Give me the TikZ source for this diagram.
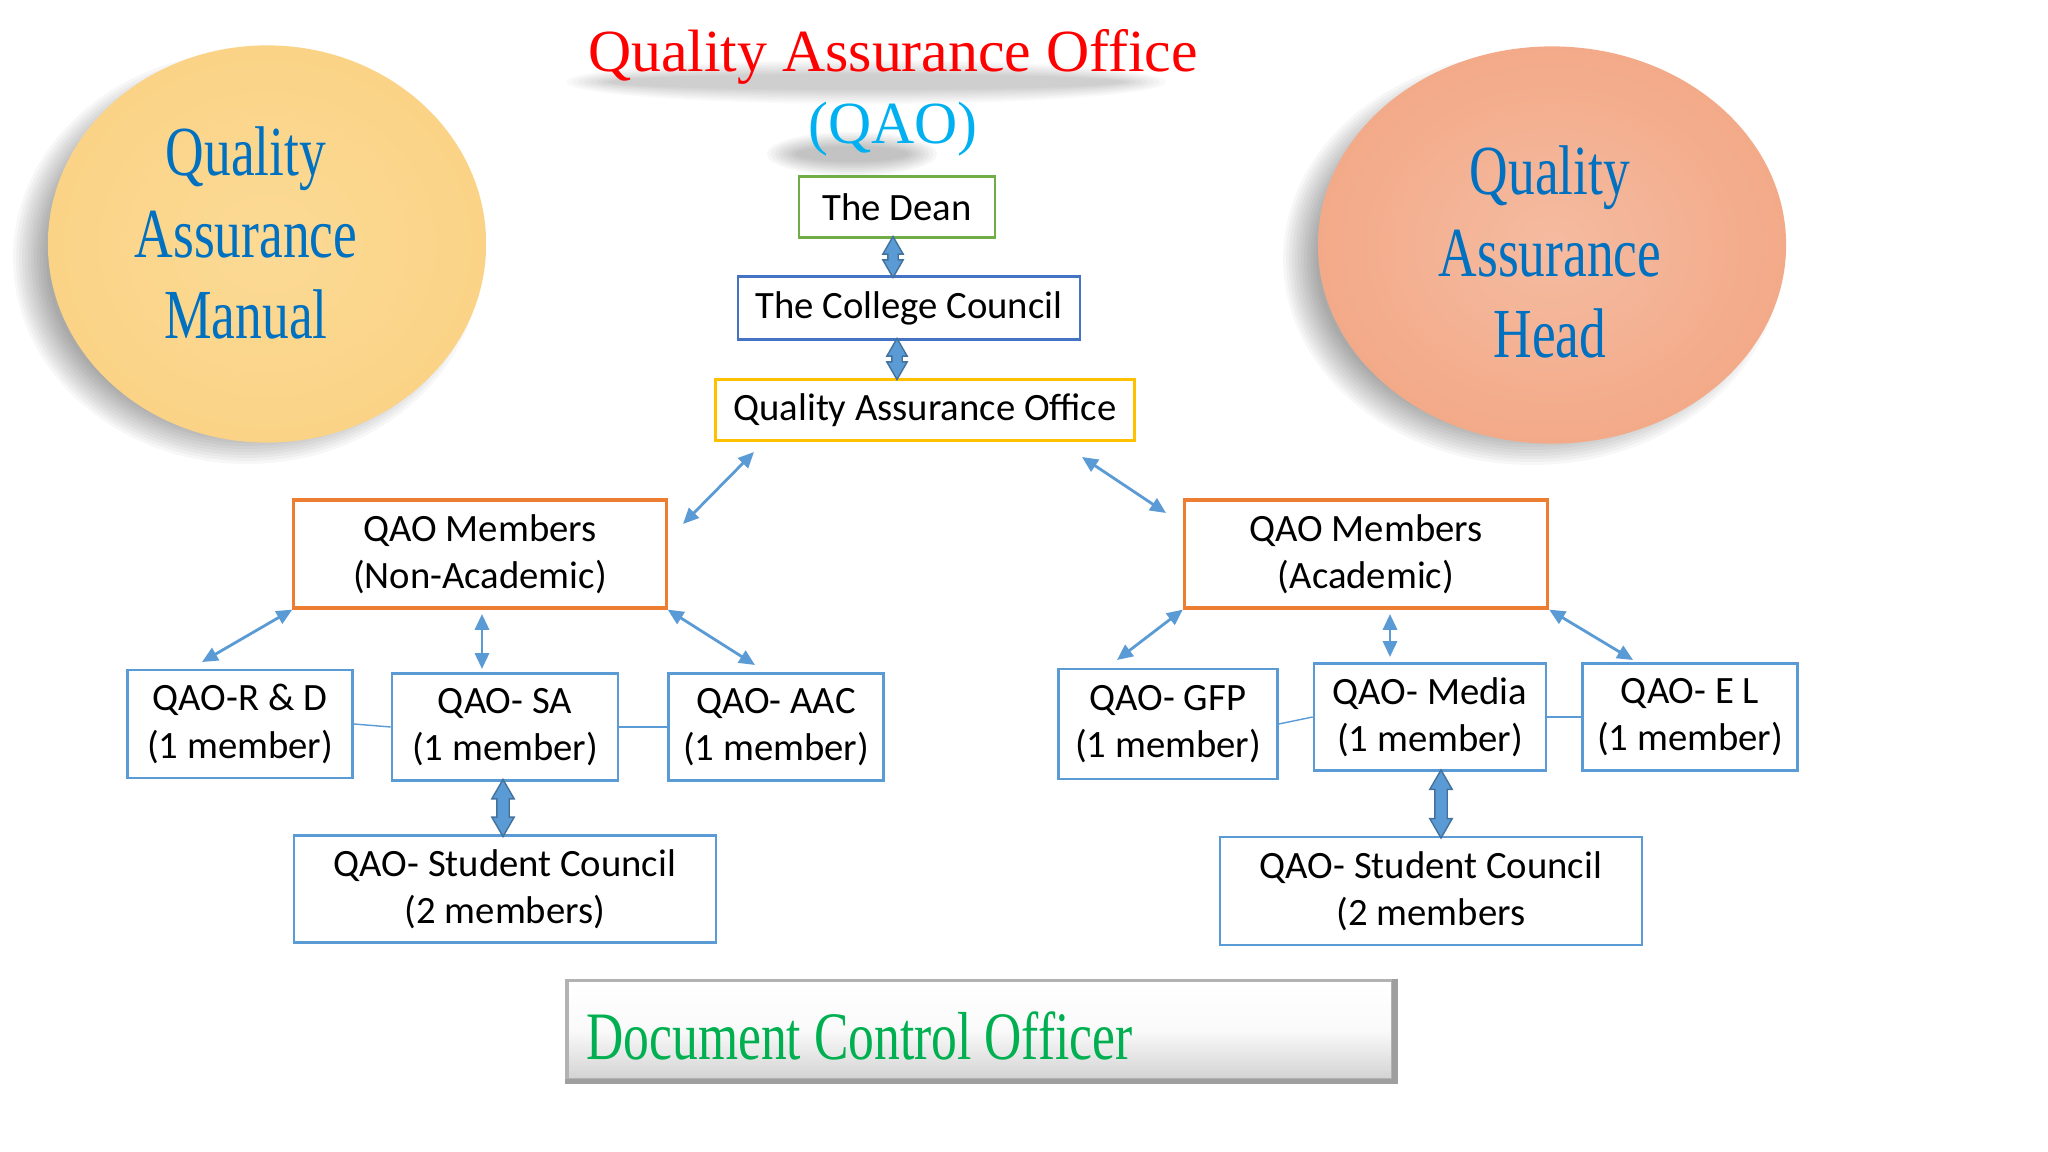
\documentclass[tikz,border=0pt]{standalone}
\usepackage{fontspec}
\setmainfont{Carlito}
\newfontfamily\headfont{Liberation Serif}
\newfontfamily\discfont[FakeStretch=0.76]{Liberation Serif}
\usetikzlibrary{shapes.geometric,shapes.arrows,arrows.meta}

\definecolor{boxblue}{HTML}{5B9BD5}
\definecolor{darkblue}{HTML}{4472C4}
\definecolor{boxgreen}{HTML}{70AD47}
\definecolor{boxgold}{HTML}{FFC000}
\definecolor{boxorange}{HTML}{ED7D31}
\definecolor{arrowline}{HTML}{41719C}
\definecolor{titlered}{HTML}{FF0000}
\definecolor{titlecyan}{HTML}{00B0F0}
\definecolor{disctext}{HTML}{0070C0}
\definecolor{officergreen}{HTML}{00B050}
\definecolor{manualin}{HTML}{FCDA95}
\definecolor{manualout}{HTML}{FAD386}
\definecolor{headin}{HTML}{F5BBA0}
\definecolor{headout}{HTML}{F3AA89}

\begin{document}
\begin{tikzpicture}[x=0.01cm,y=-0.01cm,
  box/.style={draw=boxblue, line width=0.7pt, fill=white, align=center, inner sep=0pt, font=\fontsize{11}{13.5}\selectfont},
  thinarrow/.style={draw=boxblue, line width=0.8pt, {Triangle[length=4.5pt,width=4pt]}-{Triangle[length=4.5pt,width=4pt]}},
  blockarrow/.style={double arrow, draw=arrowline, fill=boxblue, line width=0.4pt, inner xsep=0pt, inner ysep=0.045cm, double arrow head extend=0.05cm, double arrow tip angle=60, rotate=90},
  disc/.style={ellipse, minimum width=4.38cm, minimum height=3.97cm},
  disclabel/.style={text=disctext, align=center, font=\discfont\fontsize{20}{23.3}\selectfont},
  softshade/.style={fill=black, opacity=0.032},
  member/.style={box, draw=boxorange, line width=0.9pt}]
\useasboundingbox[fill=white] (0,0) rectangle (2048,1152);

% soft shadows, built up in layers
\foreach \k in {0,...,11} {
  \fill[softshade] (247,258) ellipse [x radius=234-3*\k, y radius=206-3*\k];
  \fill[softshade] (1532,259) ellipse [x radius=249-3*\k, y radius=206-3*\k];
}
\foreach \k in {0,...,7} {
  \fill[softshade, opacity=0.025] (866,82) ellipse [x radius=300-6*\k, y radius=22-2*\k];
  \fill[softshade, opacity=0.03] (852,154) ellipse [x radius=85-4*\k, y radius=22-2*\k];
}

% side discs
\node[disc, inner color=manualin, outer color=manualout] (manual) at (267,244) {};
\node[disclabel] (manualtext) at (246,233) {Quality\\Assurance\\Manual};
\node[disc, minimum width=4.68cm, inner color=headin, outer color=headout] (head) at (1552,245) {};
\node[disclabel] (headtext) at (1550,252) {Quality\\Assurance\\Head};

% title
\node[text=titlered, font=\headfont\fontsize{17}{20}\selectfont] (title) at (893,57) {Quality Assurance Office};
\node[text=titlecyan, font=\headfont\fontsize{17}{20}\selectfont] (abbr) at (893,129) {(QAO)};

% main chain
\node[box, draw=boxgreen, minimum width=1.96cm, minimum height=0.61cm] (dean) at (897,207) {The Dean};
\node[box, draw=darkblue, minimum width=3.42cm, minimum height=0.63cm] (council) at (909,308) {The College Council};
\node[box, draw=boxgold, line width=0.9pt, minimum width=4.18cm, minimum height=0.61cm] (qao) at (925,410) {Quality Assurance Office};
\node[blockarrow, minimum height=0.41cm] (deanarrow) at (893,257) {};
\node[blockarrow, minimum height=0.41cm] (councilarrow) at (897,359) {};

% members
\node[member, minimum width=3.72cm, minimum height=1.08cm] (nonacad) at (480,554) {QAO Members\\(Non-Academic)};
\node[member, minimum width=3.63cm, minimum height=1.08cm] (acad) at (1366,554) {QAO Members\\(Academic)};

% non-academic side
\node[box, minimum width=2.25cm, minimum height=1.08cm] (rd) at (240,724) {QAO-R \& D\\(1 member)};
\node[box, minimum width=2.26cm, minimum height=1.07cm] (sa) at (505,727) {QAO- SA\\(1 member)};
\node[box, minimum width=2.15cm, minimum height=1.07cm] (aac) at (776,727) {QAO- AAC\\(1 member)};
\node[box, minimum width=4.22cm, minimum height=1.07cm] (scleft) at (505,889) {QAO- Student Council\\(2 members)};
\node[blockarrow, minimum height=0.57cm, inner ysep=0.055cm] (saarrow) at (503,808) {};

% academic side
\node[box, minimum width=2.19cm, minimum height=1.10cm] (gfp) at (1168,724) {QAO- GFP\\(1 member)};
\node[box, minimum width=2.32cm, minimum height=1.07cm] (media) at (1430,717) {QAO- Media\\(1 member)};
\node[box, minimum width=2.15cm, minimum height=1.07cm] (el) at (1690,717) {QAO- E L\\(1 member)};
\node[box, minimum width=4.22cm, minimum height=1.08cm] (scright) at (1431,891) {QAO- Student Council\\(2 members};
\node[blockarrow, minimum height=0.68cm, inner ysep=0.055cm] (mediaarrow) at (1441,804) {};

% free arrow ends
\coordinate (qaoleft) at (754,452);
\coordinate (nonacadtop) at (683,524);
\coordinate (qaoright) at (1082,457);
\coordinate (acadtop) at (1166,513);
\coordinate (rdtop) at (202,662);
\coordinate (satopA) at (482,614);
\coordinate (satopB) at (482,669);
\coordinate (aactop) at (755,665);
\coordinate (gfptop) at (1117,660);
\coordinate (mediatopA) at (1390,614);
\coordinate (mediatopB) at (1390,657);
\coordinate (eltop) at (1633,660);

\draw[thinarrow] (qaoleft) -- (nonacadtop);
\draw[thinarrow] (qaoright) -- (acadtop);
\draw[thinarrow] (nonacad.south west) -- (rdtop);
\draw[thinarrow] (satopA) -- (satopB);
\draw[thinarrow] (nonacad.south east) -- (aactop);
\draw[thinarrow] (acad.south west) -- (gfptop);
\draw[thinarrow] (mediatopA) -- (mediatopB);
\draw[thinarrow] (acad.south east) -- (eltop);

\draw[boxblue, line width=0.4pt] (rd.east) -- (sa.west);
\draw[boxblue, line width=0.4pt] (sa.east) -- (aac.west);
\draw[boxblue, line width=0.4pt] (gfp.east) -- (media.west);
\draw[boxblue, line width=0.4pt] (media.east) -- (el.west);

% document control officer
\node[draw=gray!60, line width=1.1pt, top color=white, bottom color=gray!35, middle color=white!96!gray, minimum width=8.25cm, minimum height=0.99cm] (dco) at (980,1030) {};
\draw[gray!75, line width=1.6pt] (dco.north east) -- (dco.south east) -- (dco.south west);
\node[anchor=west, text=officergreen, font=\discfont\fontsize{19.3}{23}\selectfont] (dcotext) at (574,1036) {Document Control Officer};
\end{tikzpicture}
\end{document}
